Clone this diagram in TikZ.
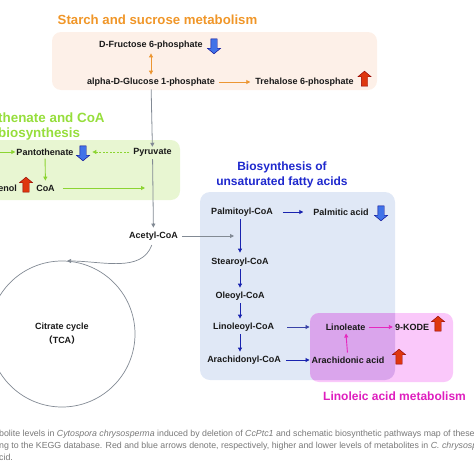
\documentclass[tikz,border=0pt]{standalone}
\usepackage{fontspec}
\setmainfont{Liberation Sans}
\newfontfamily\cjk{Noto Sans CJK SC}
\usetikzlibrary{arrows.meta,shapes.arrows}
\definecolor{orgT}{RGB}{240,150,40}
\definecolor{orgA}{RGB}{236,150,50}
\definecolor{starchbg}{RGB}{253,240,232}
\definecolor{grnT}{RGB}{150,222,60}
\definecolor{grnA}{RGB}{140,212,50}
\definecolor{pantobg}{RGB}{232,246,210}
\definecolor{bluT}{RGB}{30,40,205}
\definecolor{bluA}{RGB}{25,35,175}
\definecolor{fattybg}{RGB}{224,232,246}
\definecolor{magT}{RGB}{222,30,190}
\definecolor{magA}{RGB}{230,40,190}
\definecolor{pinkbg}{RGB}{250,200,250}
\definecolor{overlapbg}{RGB}{218,165,236}
\definecolor{greyA}{RGB}{130,138,148}
\definecolor{upred}{RGB}{222,55,15}
\definecolor{dnblue}{RGB}{65,115,232}
\definecolor{captxt}{RGB}{120,120,120}

\begin{document}
\begin{tikzpicture}[x=1pt,y=1pt]
\tikzstyle{every node}+=[inner sep=0pt]
\tikzstyle{met}=[font=\bfseries\fontsize{9}{10}\selectfont, text=black!90]
\tikzstyle{ttl}=[font=\bfseries\fontsize{12}{13}\selectfont]
\tikzstyle{uparr}=[single arrow, shape border rotate=90, inner sep=3pt, minimum height=15pt, single arrow head extend=3.5pt, single arrow tip angle=100, draw=red!55!black, fill=upred, line width=0.4pt]
\tikzstyle{dnarr}=[uparr, shape border rotate=270, draw=blue!55!black, fill=dnblue]
\tikzstyle{flowarr}=[line width=0.9pt, -{Triangle[length=4pt,width=4pt]}, shorten >=1pt, shorten <=1pt]
\tikzstyle{captext}=[anchor=west, font=\fontsize{8.8}{9}\selectfont, text=captxt]
\useasboundingbox (0,0) rectangle (474,-474);
\clip (0,0) rectangle (474,-474);
% boxes
\fill [starchbg, rounded corners=9] (52,-32) rectangle (377,-90);
\fill [pantobg, rounded corners=9] (-12,-140) rectangle (180,-200);
\fill [fattybg, rounded corners=10] (200,-192) rectangle (395,-380);
\fill [pinkbg, rounded corners=9] (310,-313) rectangle (453,-382);
\begin{scope}
\clip [rounded corners=10] (200,-192) rectangle (395,-380);
\fill [overlapbg, rounded corners=9] (310,-313) rectangle (453,-382);
\end{scope}
% titles
\node [ttl, text=orgT, font=\bfseries\fontsize{13.2}{14}\selectfont] (tstarch) at (157.5,-20) {Starch and sucrose metabolism};
\node [ttl, text=grnT, font=\bfseries\fontsize{13.4}{14}\selectfont, anchor=west] (tpanto1) at (-2,-118) {thenate and CoA};
\node [ttl, text=grnT, font=\bfseries\fontsize{13.4}{14}\selectfont, anchor=west] (tpanto2) at (-2,-134) {biosynthesis};
\node [ttl, text=bluT] (tfatty1) at (282,-167) {Biosynthesis of};
\node [ttl, text=bluT] (tfatty2) at (282,-182) {unsaturated fatty acids};
\node [ttl, text=magT, anchor=west] (tlino) at (323,-396) {Linoleic acid metabolism};
% starch and sucrose
\node [met] (fru) at (151,-45) {D-Fructose 6-phosphate};
\node [dnarr] (fruarr) at (214,-45) {};
\node [met] (glc) at (151,-82) {alpha-D-Glucose 1-phosphate};
\node [met] (tre) at (304.5,-82) {Trehalose 6-phosphate};
\node [uparr] (trearr) at (364.5,-80) {};
\draw [flowarr, orgA, {Triangle[length=4pt,width=4pt]}-{Triangle[length=4pt,width=4pt]}, shorten <=4pt, shorten >=3pt] (fru) -- (glc);
\draw [flowarr, orgA, shorten <=4pt, shorten >=5pt] (glc) -- (tre);
% pantothenate and CoA
\node [met] (panto) at (45,-152) {Pantothenate};
\node [dnarr] (pantoarr) at (83,-152) {};
\node [met] (pyr) at (152.5,-152) {Pyruvate};
\node [met, anchor=east] (enol) at (17,-188) {enol};
\node [uparr] (enolarr) at (26,-186) {};
\node [met] (coa) at (45.5,-188) {CoA};
\coordinate (pantoin) at (-6,-152);
\coordinate (coaend) at (146,-188);
\draw [flowarr, grnA] (pantoin) -- (panto);
\draw [flowarr, grnA, dash pattern=on 2pt off 1.5pt, shorten <=4pt, shorten >=6pt] (pyr) -- (pantoarr);
\draw [flowarr, grnA, shorten <=3pt, shorten >=4pt] (panto) -- (coa);
\draw [flowarr, grnA, shorten <=8pt] (coa) -- (coaend);
% glycolysis and TCA
\node [met] (acetyl) at (153.5,-236) {Acetyl-CoA};
\coordinate (fattyin) at (235,-236);
\coordinate (cyctop) at (67,-261);
\draw [flowarr, greyA, line width=0.8pt, shorten <=3pt] (glc) -- (pyr);
\draw [flowarr, greyA, line width=0.8pt, shorten <=3pt, shorten >=4pt] (pyr) -- (acetyl);
\draw [flowarr, greyA, line width=0.8pt, shorten <=4pt] (acetyl) -- (fattyin);
\draw [flowarr, greyA, line width=0.7pt, shorten <=5pt, shorten >=0pt] (acetyl.south) to[out=-110, in=0] (cyctop);
\draw [greyA, line width=0.7pt] (62,-334) circle (73);
\node [met] (tca1) at (62,-327) {Citrate cycle};
\node [met] (tca2) at (62,-340) {{\cjk （}TCA{\cjk ）}};
% unsaturated fatty acids
\node [met] (palm) at (242,-212) {Palmitoyl-CoA};
\node [met] (palmac) at (341,-212) {Palmitic acid};
\node [dnarr] (palmarr) at (381,-212) {};
\node [met] (stear) at (240,-262) {Stearoyl-CoA};
\node [met] (oleo) at (240,-296) {Oleoyl-CoA};
\node [met] (linco) at (243.5,-327) {Linoleoyl-CoA};
\node [met] (arach) at (244,-360) {Arachidonyl-CoA};
\draw [flowarr, bluA, shorten <=10pt, shorten >=10pt] (palm) -- (palmac);
\draw [flowarr, bluA, shorten <=3pt, shorten >=5pt] (palm.south -| stear) -- (stear);
\draw [flowarr, bluA, shorten <=3pt, shorten >=4pt] (stear) -- (oleo);
\draw [flowarr, bluA, shorten <=3pt, shorten >=4pt] (oleo.south) -- (oleo.south |- linco.north);
\draw [flowarr, bluA, shorten <=3pt, shorten >=4pt] (oleo.south |- linco.south) -- (oleo.south |- arach.north);
% linoleic acid
\node [met] (linol) at (345.5,-327) {Linoleate};
\node [met] (kode) at (412,-327) {9-KODE};
\node [uparr] (kodearr) at (438,-325) {};
\node [met] (arachac) at (348,-360) {Arachidonic acid};
\node [uparr] (arachacarr) at (399,-358) {};
\draw [flowarr, bluA!70!greyA, shorten <=13pt, shorten >=16pt] (linco) -- (linol);
\draw [flowarr, bluA, shorten <=5pt, shorten >=2pt] (arach) -- (arachac);
\draw [flowarr, magA, shorten <=4pt, shorten >=2pt] (linol) -- (kode);
\draw [flowarr, magA, shorten <=4pt, shorten >=3pt] (arachac) -- (linol);
% caption
\node [captext] (cap1) at (-1,-434) {bolite levels in \textit{Cytospora chrysosperma} induced by deletion of \textit{CcPtc1} and schematic biosynthetic pathways map of these};
\node [captext] (cap2) at (-1,-446) {ng to the KEGG database. Red and blue arrows denote, respectively, higher and lower levels of metabolites in \textit{C. chrysosp}};
\node [captext] (cap3) at (-1,-457) {cid.};
\end{tikzpicture}
\end{document}
